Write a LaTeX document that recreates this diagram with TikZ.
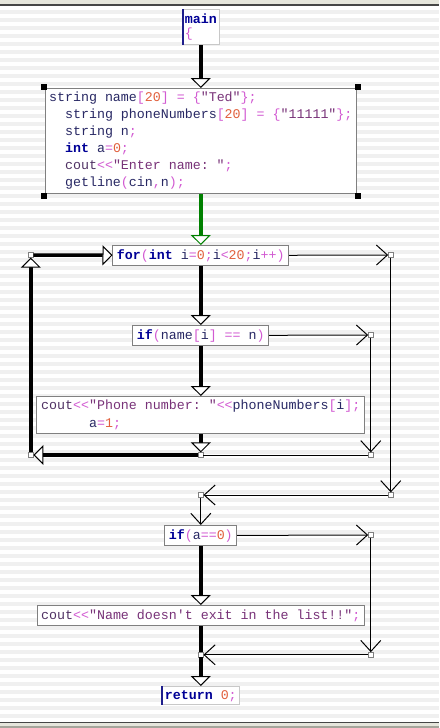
\documentclass[tikz,border=0pt]{standalone}
\usepackage{fontspec}
\setmonofont{Liberation Mono}
\usetikzlibrary{arrows.meta}
\definecolor{kwc}{RGB}{0,0,150}
\definecolor{idc}{RGB}{40,40,100}
\definecolor{opc}{RGB}{210,90,210}
\definecolor{numc}{RGB}{225,95,60}
\definecolor{strc}{RGB}{120,50,120}
\definecolor{coutc}{RGB}{80,50,100}
\definecolor{stripec}{RGB}{240,240,240}
\definecolor{boxc}{RGB}{128,128,128}
\definecolor{lboxc}{RGB}{200,200,200}
\definecolor{barc}{RGB}{30,30,140}
\definecolor{grnc}{RGB}{0,128,0}
\definecolor{topc}{RGB}{230,230,220}
\definecolor{botc}{RGB}{165,165,155}
\definecolor{edgec}{RGB}{70,70,70}
\newcommand{\ckw}[1]{{\color{kwc}\bfseries #1}}
\newcommand{\cid}[1]{{\color{idc}#1}}
\newcommand{\cop}[1]{{\color{opc}#1}}
\newcommand{\cnm}[1]{{\color{numc}#1}}
\newcommand{\cst}[1]{{\color{strc}#1}}
\newcommand{\cco}[1]{{\color{coutc}#1}}
\newcommand{\codefs}{\fontsize{13.3pt}{17pt}\selectfont\ttfamily}
\begin{document}
\begin{tikzpicture}[x=1pt,y=-1pt,
  box/.style={draw=boxc, line width=1pt, fill=white, font=\codefs, inner xsep=4pt, inner ysep=0pt,
    anchor=north, minimum height=20pt, text height=10pt, text depth=3pt},
  mbox/.style={draw=boxc, line width=1pt, fill=white, anchor=north, align=left, inner ysep=0pt},
  lbox/.style={draw=lboxc, line width=1pt, fill=white, anchor=north, inner xsep=3pt, inner ysep=0pt},
  jn/.style={rectangle, draw=boxc, fill=white, line width=0.8pt, minimum size=4.5pt, inner sep=0pt},
  thk/.style={line width=3.5pt, draw=black},
  thn/.style={line width=1pt, draw=black},
  bluebar/.style={line width=2pt, draw=barc},
  handle/.style={fill=black},
  tri/.tip={Triangle[fill=white, length=10pt, width=20pt, line width=1pt]},
  barb/.tip={Straight Barb[length=11pt, width=20pt]}
]
\useasboundingbox (0,0) rectangle (439,728);
% background
\fill[white] (0,0) rectangle (439,728);
\foreach \yy in {10,18,...,714} {\fill[stripec] (0,\yy) rectangle (439,\yy+4);}
\fill[topc] (0,0) rectangle (439,4);
\fill[edgec] (0,4) rectangle (439,5.5);
\fill[edgec] (0,722) rectangle (439,723.3);
\fill[topc] (0,723.3) rectangle (439,725.5);
\fill[botc] (0,725.5) rectangle (439,728);

% nodes
\node[lbox, align=left, minimum width=36pt, minimum height=35pt, inner xsep=2.5pt,
  font=\fontsize{13.3pt}{14pt}\selectfont\ttfamily] (main) at (200.8,9) {\ckw{main}\\\cop{\{}};
\draw[bluebar] ([xshift=1pt]main.north west) -- ([xshift=1pt]main.south west);

\node[mbox, font=\codefs, inner xsep=3.6pt, minimum height=105pt] (decl) at (200.8,88) {%
\cid{string name}\cop{[}\cnm{20}\cop{]} \cop{=} \cop{\{}\cst{"Ted"}\cop{\};}\\
\phantom{00}\cid{string phoneNumbers}\cop{[}\cnm{20}\cop{]} \cop{=} \cop{\{}\cst{"11111"}\cop{\};}\\
\phantom{00}\cid{string n}\cop{;}\\
\phantom{00}\ckw{int} \cid{a}\cop{=}\cnm{0}\cop{;}\\
\phantom{00}\cco{cout}\cop{<<}\cst{"Enter name: "}\cop{;}\\
\phantom{00}\cid{getline}\cop{(}\cid{cin}\cop{,}\cid{n}\cop{);}};

\node[box] (for) at (200.8,245) {\ckw{for}\cop{(}\ckw{int} \cid{i}\cop{=}\cnm{0}\cop{;}\cid{i}\cop{<}\cnm{20}\cop{;}\cid{i}\cop{++)}};
\node[box] (ifn) at (200.8,325) {\ckw{if}\cop{(}\cid{name}\cop{[}\cid{i}\cop{]} \cop{==} \cid{n}\cop{)}};
\node[mbox, font=\fontsize{13.3pt}{18pt}\selectfont\ttfamily, inner xsep=4.2pt, minimum height=37pt] (cout1) at (200.8,396) {%
\cco{cout}\cop{<<}\cst{"Phone number: "}\cop{<<}\cid{phoneNumbers}\cop{[}\cid{i}\cop{];}\\
\phantom{000000}\cid{a}\cop{=}\cnm{1}\cop{;}};
\node[box] (if2) at (200.8,525) {\ckw{if}\cop{(}\cid{a}\cop{==}\cnm{0}\cop{)}};
\node[box] (cout2) at (200.8,605) {\cco{cout}\cop{<<}\cst{"Name doesn't exit in the list!!"}\cop{;}};
\node[lbox, font=\codefs, minimum height=18pt, text height=10pt, text depth=3pt] (ret) at (200.8,686) {\ckw{return} \cnm{0}\cop{;}};
\draw[bluebar] ([xshift=1pt]ret.north west) -- ([xshift=1pt]ret.south west);

% junctions
\node[jn] (jfl) at (30.8,255) {};
\node[jn] (jfr) at (390.8,255) {};
\node[jn] (jir) at (370.8,335) {};
\node[jn] (jil) at (200.8,455) {};
\node[jn] (jill) at (30.8,455) {};
\node[jn] (jir2) at (370.8,455) {};
\node[jn] (jfr2) at (390.8,495) {};
\node[jn] (jfm) at (200.8,495) {};
\node[jn] (ja) at (370.8,535) {};
\node[jn] (ja2) at (370.8,654.8) {};
\node[jn] (jam) at (200.8,654.8) {};

% connectors
\draw[thk, -{tri}] (main) -- (decl);
\draw[thk, draw=grnc, -{tri}] (decl) -- (for);
\draw[thk, -{tri}] (jfl) -- (for);
\draw[thn, -{barb}] (for) -- (jfr);
\draw[thn, -{barb}] (jfr) -- (jfr2);
\draw[thn, -{barb}] (jfr2) -- (jfm);
\draw[thn, -{barb}] (jfm) -- (if2);
\draw[thk, -{tri}] (for) -- (ifn);
\draw[thn, -{barb}] (ifn) -- (jir);
\draw[thn, -{barb}] (jir) -- (jir2);
\draw[thn] (jir2) -- (jil);
\draw[thk, -{tri}] (ifn) -- (cout1);
\draw[thk, -{tri}] (cout1) -- (jil);
\draw[thk, -{tri}] (jil) -- (jill);
\draw[thk, -{tri}] (jill) -- (jfl);
\draw[thn, -{barb}] (if2) -- (ja);
\draw[thn, -{barb}] (ja) -- (ja2);
\draw[thn, -{barb}] (ja2) -- (jam);
\draw[thk, -{tri}] (if2) -- (cout2);
\draw[thk] (cout2) -- (jam);
\draw[thk, -{tri}] (jam) -- (ret);

% selection handles
\fill[handle] (decl.north west) ++(-4.5,-4.5) rectangle ++(6,6);
\fill[handle] (decl.north east) ++(-1.5,-4.5) rectangle ++(6,6);
\fill[handle] (decl.south west) ++(-4.5,-1.5) rectangle ++(6,6);
\fill[handle] (decl.south east) ++(-1.5,-1.5) rectangle ++(6,6);
\end{tikzpicture}
\end{document}
